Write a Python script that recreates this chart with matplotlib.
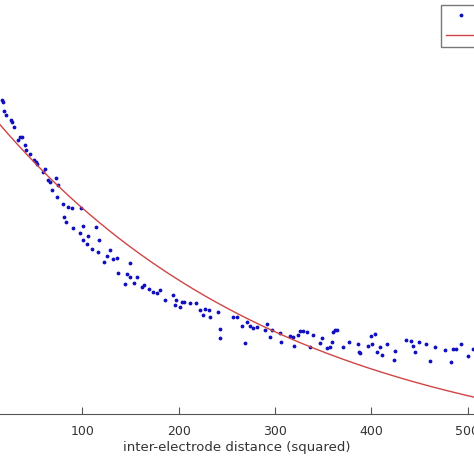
import matplotlib
matplotlib.use("Agg")
import matplotlib.pyplot as plt
import numpy as np

x_data = [16.3,18.0,18.7,20.8,26.0,27.4,29.4,33.6,35.3,37.4,40.5,41.5,45.7,50.2,52.0,53.3,58.9,61.3,64.7,66.5,72.7,74.4,68.2,73.4,80.3,85.5,89.6,98.6,81.3,83.1,90.7,100.4,97.6,106.2,113.9,101.0,104.6,117.7,109.8,116.6,128.8,125.3,122.5,132.2,136.3,149.5,137.4,146.1,144.3,149.5,157.1,154.0,161.7,164.1,169.6,173.1,180.7,177.3,185.9,194.5,197.3,203.2,205.9,196.3,201.5,211.8,218.1,222.2,227.4,231.9,241.2,225.7,232.6,256.8,260.9,
          243.0,243.0,269.3,265.5,270.7,274.1,277.6,281.1,291.5,289.7,296.7,294.9,305.3,306.0,315.7,319.1,319.8,326.1,329.5,333.0,324.3,339.9,336.4,348.6,346.8,353.8,357.2,360.6,362.4,364.8,359.0,371.0,377.3,386.6,388.4,387.6,397.0,399.5,403.9,400.5,405.7,409.1,410.9,416.1,424.7,424.0,436.1,441.0,443.1,445.5,450.0,456.9,461.1,466.2,476.6,482.5,485.2,487.7,492.9,500.8,506.0]
y_data = [314,312,303,299,294,292,287,274,277,277,269,264,260,254,252,250,242,245,234,232,236,229,224,217,210,207,206,206,197,192,186,188,181,178,187,174,170,174,165,162,164,158,152,155,156,151,141,140,130,137,137,131,127,129,125,122,124,121,114,119,114,112,112,109,107,111,111,104,105,104,102,99,97,97,97,
          85,76,71,88,92,88,86,87,90,84,84,77,81,72,78,77,68,83,83,82,79,79,67,76,71,66,67,82,84,84,72,67,72,70,61,62,68,78,80,70,62,67,59,70,63,54,74,73,68,62,72,70,53,67,64,52,65,65,70,58,65]

fit_A, fit_k, fit_c = 356.0, 0.0033, -50.0
x_fit = np.linspace(0, 520, 300)
y_fit = fit_A * np.exp(-fit_k * x_fit) + fit_c

xticks = [0, 100, 200, 300, 400, 500]

fig = plt.figure(figsize=(4.74, 4.74), dpi=100)
ax = fig.add_axes([-14/474, 60/474, 520*0.963/474, 424/474])
ax.plot(x_data, y_data, ".", color="#1010c0", markersize=3.5, label="data")
ax.plot(x_fit, y_fit, "-", color="#d04545", linewidth=1.0, label="fit")
ax.set_xlim(0, 520)
ax.set_ylim(0, 424)
ax.set_xticks(xticks)
ax.set_yticks([])
for s in ["left", "top", "right"]:
    ax.spines[s].set_visible(False)
ax.spines["bottom"].set_color("#555555")
ax.tick_params(axis="x", direction="in", length=5, color="#555555",
               labelsize=9, labelcolor="#333333", pad=8)
ax.set_xlabel("inter-electrode distance (squared)", fontsize=9.5, color="#333333", labelpad=2)
fig.legend(loc="upper left", bbox_to_anchor=(435/474, 1.003), bbox_transform=fig.transFigure,
           fancybox=False, edgecolor="#555555", fontsize=9, handlelength=2.3)
fig.savefig("out.png", dpi=100)
